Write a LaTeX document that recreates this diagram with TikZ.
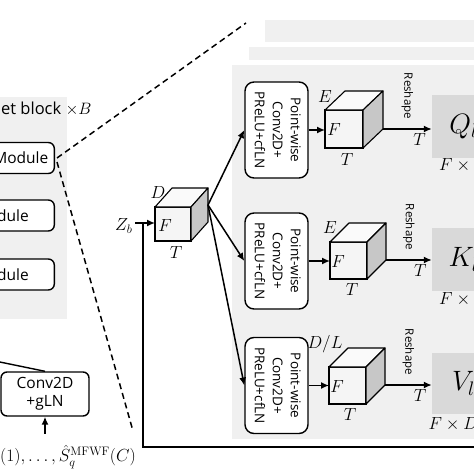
\RequirePackage{fix-cm}
\documentclass[tikz,border=0pt]{standalone}
\usepackage{amsmath, amssymb}
\usepackage[no-math]{fontspec}
\setmainfont{Open Sans}
\usepackage{graphicx}
\usetikzlibrary{positioning, arrows.meta}

\tikzset{
	panel/.style = {fill = black!6},
	modbox/.style = {draw, fill = white, rounded corners = 6pt, line width = 1.4pt, minimum height = 31pt, font = \fontsize{15.5}{18}\selectfont},
	pwbox/.style = {draw, fill = white, rounded corners = 9pt, line width = 1.4pt, minimum width = 63pt, minimum height = 96pt, inner sep = 0pt, font = \fontsize{13.5}{18}\selectfont},
	face/.style = {draw, fill = black!4, line width = 1.1pt, minimum width = 37pt, minimum height = 37pt, inner sep = 0pt, outer sep = 0pt},
	outbox/.style = {fill = black!15, minimum width = 63pt, minimum height = 63pt, font = \fontsize{28}{30}\selectfont},
	lab/.style = {font = \fontsize{17.5}{20}\selectfont},
	reshape/.style = {font = \fontsize{11.5}{13}\selectfont}
}

\newcommand{\tfcube}[4]{%
	\node[face, #4] (#1) at (#2) {};
	\filldraw[fill = black!2, line width = 1.1pt, line join = round] (#1.north west) -- ([shift={(#3)}]#1.north west) -- ([shift={(#3)}]#1.north east) -- (#1.north east) -- cycle;
	\filldraw[fill = black!22, line width = 1.1pt, line join = round] (#1.north east) -- ([shift={(#3)}]#1.north east) -- ([shift={(#3)}]#1.south east) -- (#1.south east) -- cycle;
}

\begin{document}
\begin{tikzpicture}[x = 1pt, y = -1pt, >={Latex[length = 8pt, width = 7pt]}]
	\useasboundingbox (0,0) rectangle (474,474);
	\clip (0,0) rectangle (474,474);
	\fill[panel] (265,20) rectangle (480,42);
	\fill[panel] (249,47) rectangle (480,60);
	\fill[panel] (232,65) rectangle (480,439);
	\fill[panel] (-10,97) rectangle (67,319);

	\node[anchor = east, font = \fontsize{16.5}{18}\selectfont] (blocktitle) at (95,109) {Net block $\times B$};
	\node[modbox, minimum width = 67pt, anchor = east] (mod1) at (55,158) {Module};
	\node[modbox, minimum width = 106pt, anchor = east] (mod2) at (55,215.5) {Module};
	\node[modbox, minimum width = 106pt, anchor = east] (mod3) at (55,274.5) {Module};
	\node[modbox, align = center, minimum width = 88pt, minimum height = 44pt] (conv) at (45,394) {Conv2D\\+gLN};
	\node[lab, font = \fontsize{17.5}{20}\selectfont] (sin) at (68,457) {$(1), \ldots, \hat{S}_q^{\mathrm{MFWF}}(C)$};
	\coordinate (convin) at (-5,361);
	\draw[line width = 1.4pt] (convin) -- (conv.north);
	\draw[<-, line width = 1.5pt] (conv.south) -- ++(0,17);

	\coordinate (zoomtop) at (246,23);
	\coordinate (zoombot) at (133,431);
	\draw[line width = 1.5pt, dash pattern = on 6pt off 4pt] ([xshift = 2pt]mod1.east) -- (zoomtop);
	\draw[line width = 1.5pt, dash pattern = on 6pt off 4pt] ([shift = {(2,4)}]mod1.east) -- (zoombot);

	\tfcube{zb}{173,224}{17,-19}{minimum width = 36pt, minimum height = 34pt}
	\node[lab] (zbD) at ([shift = {(3,-14)}]zb.north west) {$D$};
	\node[lab] (zbF) at ([shift = {(10,2)}]zb.west) {$F$};
	\node[lab] (zbT) at ([shift = {(3,12)}]zb.south) {$T$};
	\coordinate (skipin) at (480,447);
	\coordinate (skipup) at (143,223);
	\coordinate (zbin) at (135,223);
	\draw[line width = 2pt] (skipin) -| (skipup);
	\draw[->, line width = 1.5pt] (zbin) -- (zbin -| zb.west);
	\node[lab, anchor = east] (zblab) at (136,226) {$Z_b$};

	\node[pwbox] (pwq) at (276.5,130) {\rotatebox{-90}{\begin{tabular}{c}Point-wise\\Conv2D+\\PReLU+cfLN\end{tabular}}};
	\node[pwbox] (pwk) at (276.5,261) {\rotatebox{-90}{\begin{tabular}{c}Point-wise\\Conv2D+\\PReLU+cfLN\end{tabular}}};
	\node[pwbox] (pwv) at (276.5,385.5) {\rotatebox{-90}{\begin{tabular}{c}Point-wise\\Conv2D+\\PReLU+cfLN\end{tabular}}};
	\coordinate (zbout) at ([shift = {(17,-19)}]zb.east);
	\draw[->, line width = 1.5pt] (zbout) -- (pwq.west);
	\draw[->, line width = 1.5pt] (zbout) -- (pwk.west);
	\draw[->, line width = 1.5pt] (zbout) -- (pwv.west);

	\tfcube{cq}{344,129}{20,-19}{minimum width = 38pt, minimum height = 38pt}
	\node[lab] (cqE) at ([shift = {(0,-13)}]cq.north west) {$E$};
	\node[lab] (cqF) at ([shift = {(9,1)}]cq.west) {$F$};
	\node[lab] (cqT) at ([shift = {(3,12)}]cq.south) {$T$};
	\tfcube{ck}{348.5,260.5}{19,-19}{}
	\node[lab] (ckE) at ([shift = {(0,-14)}]ck.north west) {$E$};
	\node[lab] (ckF) at ([shift = {(8,1.5)}]ck.west) {$F$};
	\node[lab] (ckT) at ([shift = {(3.5,11)}]ck.south) {$T$};
	\tfcube{cv}{347.5,385.5}{19,-19}{}
	\node[lab] (cvD) at ([shift = {(-4,-23)}]cv.north west) {$D/L$};
	\node[lab] (cvF) at ([shift = {(8,1.5)}]cv.west) {$F$};
	\node[lab] (cvT) at ([shift = {(2.5,11)}]cv.south) {$T$};
	\draw[->, line width = 1.5pt] (pwq.east) -- (pwq.east -| cq.west);
	\draw[->, line width = 1.5pt] (pwk.east) -- (pwk.east -| ck.west);
	\draw[->, line width = 1.5pt] (pwv.east) -- (pwv.east -| cv.west);

	\node[outbox] (qout) at (463.5,126.5) {$Q_l$};
	\node[outbox] (kout) at (463.5,259.5) {$K_l$};
	\node[outbox, minimum height = 61pt] (vout) at (463.5,383.5) {$V_l$};
	\node[lab, below = -3pt of qout] (qdim) {$F\times E$};
	\node[lab, below = -2pt of kout] (kdim) {$F\times E$};
	\node[lab, below = -1pt of vout] (vdim) {$F\times D/L$};
	\coordinate (cqo) at ([shift = {(20,-19)}]cq.south east);
	\coordinate (cko) at ([shift = {(19,-19)}]ck.south east);
	\coordinate (cvo) at ([shift = {(19,-19)}]cv.south east);
	\draw[->, line width = 1.5pt] (cqo) -- (cqo -| qout.west) node[midway, above = 6pt, reshape] {\rotatebox{-90}{Reshape}} node[pos = 0.75, below, lab] {$T$};
	\draw[->, line width = 1.5pt] (cko) -- (cko -| kout.west) node[midway, above = 6pt, reshape] {\rotatebox{-90}{Reshape}} node[pos = 0.75, below, lab] {$T$};
	\draw[->, line width = 1.5pt] (cvo) -- (cvo -| vout.west) node[midway, above = 6pt, reshape] {\rotatebox{-90}{Reshape}} node[pos = 0.75, below, lab] {$T$};
\end{tikzpicture}
\end{document}
